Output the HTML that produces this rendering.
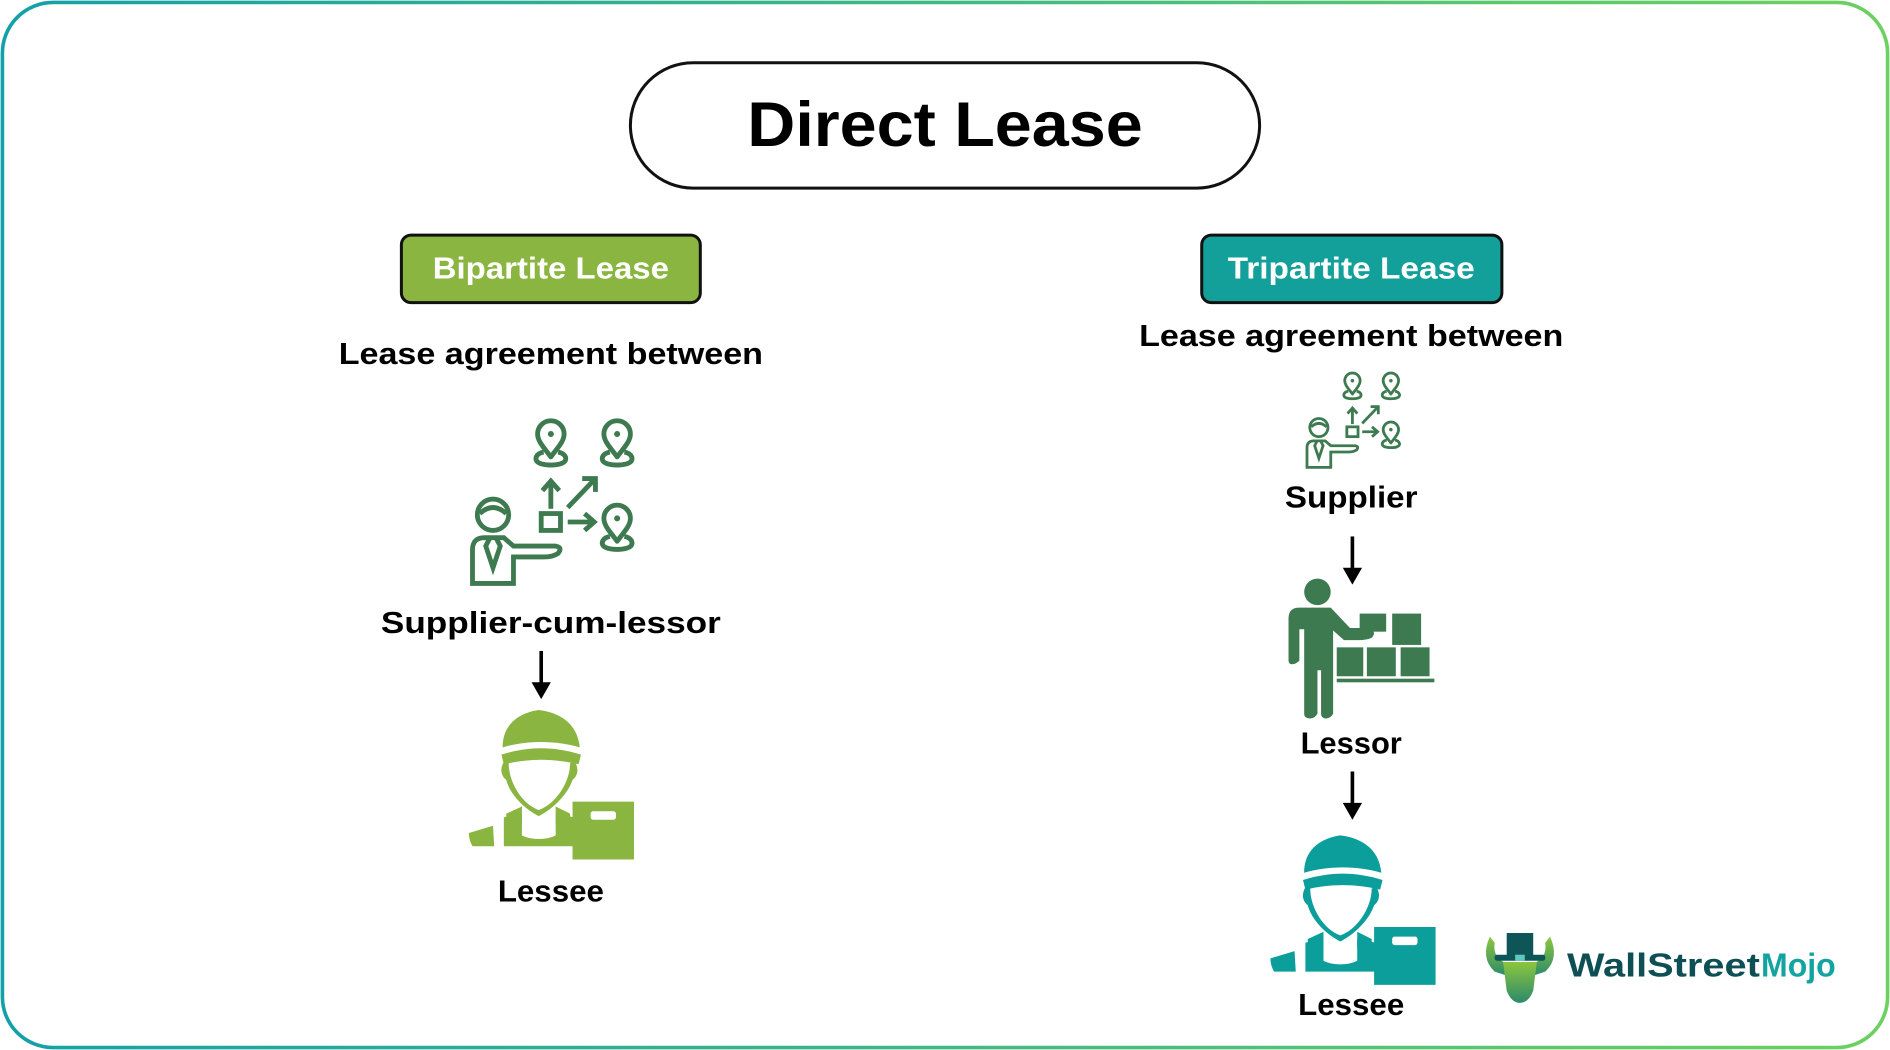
<!DOCTYPE html>
<html><head><meta charset="utf-8"><style>
html,body{margin:0;padding:0;background:#fff;}
svg{display:block;}
text{font-family:"Liberation Sans",Arial,sans-serif;font-weight:bold;}
</style></head><body>
<svg width="1890" height="1050" viewBox="0 0 1568 871" xmlns="http://www.w3.org/2000/svg">
<defs>
<linearGradient id="bd" x1="0" y1="0" x2="1" y2="0">
<stop offset="0" stop-color="#14a0a8"/><stop offset="1" stop-color="#6cd160"/>
</linearGradient>
<linearGradient id="bull" x1="0" y1="0" x2="0" y2="1">
<stop offset="0" stop-color="#8cc63f"/><stop offset="1" stop-color="#2c8a6a"/>
</linearGradient>
<g id="pin">
<path d="M0,18 C-6,10 -11,5 -11,-1 A11,11 0 1 1 11,-1 C11,5 6,10 0,18 Z" fill="none" stroke="#3d7a4f" stroke-width="4" stroke-linejoin="round"/>
<circle cx="0" cy="-1" r="2.5" fill="#3d7a4f"/>
<path d="M-6,14 C-12,15 -13,19 -12,21 C-10,26 10,26 12,21 C13,19 12,15 6,14" fill="none" stroke="#3d7a4f" stroke-width="4"/>
</g>
<g id="sup">
<use href="#pin" x="69" y="11"/>
<use href="#pin" x="124" y="11"/>
<use href="#pin" x="124" y="81"/>
<rect x="61" y="76" width="16" height="14" fill="none" stroke="#3d7a4f" stroke-width="4"/>
<g stroke="#3d7a4f" stroke-width="4" fill="none" stroke-linejoin="miter">
<path d="M69,72 V50 M62,57 L69,49 L76,57"/>
<path d="M83,71 L105,48 M95,47 L106,47 L106,58"/>
<path d="M83,83 H104 M97,76 L105,83 L97,90"/>
<circle cx="21" cy="77" r="13"/>
<path d="M10,76 Q21,66 32,76"/>
<path d="M4,134 V106 Q4,96 14,96 H30 L38,103 H73 Q79,104 75,109 Q71,112 63,112 H38 V134 Z"/>
<path d="M18,97 L15,103 L21,121 L27,103 L24,97"/>
</g>
</g>
<g id="lessee">
<path d="M28,31 C28,10 44,2 58,0 C74,2 90,10 92,31 C72,25 48,25 28,31 Z"/>
<path d="M27,37 C50,30 70,30 93,37 L91,45 C70,40 50,40 29,45 Z"/>
<path d="M29,43 C26,48 26,54 31,58 C34,70 46,82 58,88 C70,82 82,70 86,58 C91,54 91,48 88,43 L84,44 C84,60 72,78 58,83 C44,78 33,60 33,44 Z"/>
<path d="M31,86 L44,80 L44,94 L31,100 Z M84,86 L72,80 L72,94 L84,100 Z"/>
<path d="M29,89 L44,86 L44,113 L29,113 Z M87,89 L72,86 L72,113 L87,113 Z M44,104 C52,108 64,108 72,104 L72,113 L44,113 Z"/>
<path d="M0,102 L20,96 L21,113 L3,113 Q0,108 0,102 Z"/>
<rect x="86" y="76" width="51" height="48"/>
<rect x="101" y="84" width="21" height="7" rx="2" fill="#fff"/>
</g>
<g id="arrow">
<rect x="-1.5" y="0" width="3" height="30" fill="#000"/>
<path d="M-8,26 L8,26 L0,40 Z" fill="#000"/>
</g>
</defs>

<rect x="2" y="2" width="1564" height="867" rx="42" fill="#fff" stroke="url(#bd)" stroke-width="3"/>

<rect x="523" y="52" width="522" height="104" rx="52" fill="#fff" stroke="#111" stroke-width="2.5"/>
<text x="784" y="121" font-size="52" text-anchor="middle" textLength="328" lengthAdjust="spacingAndGlyphs">Direct Lease</text>

<rect x="333" y="195" width="248" height="56" rx="8" fill="#8ab540" stroke="#111" stroke-width="2.5"/>
<text x="457" y="231" font-size="25" fill="#fff" text-anchor="middle" textLength="196" lengthAdjust="spacingAndGlyphs">Bipartite Lease</text>
<rect x="997" y="195" width="249" height="56" rx="8" fill="#13a09a" stroke="#111" stroke-width="2.5"/>
<text x="1121" y="231" font-size="25" fill="#fff" text-anchor="middle" textLength="205" lengthAdjust="spacingAndGlyphs">Tripartite Lease</text>

<text x="457" y="302" font-size="25" text-anchor="middle" textLength="352" lengthAdjust="spacingAndGlyphs">Lease agreement between</text>
<text x="1121" y="287" font-size="25" text-anchor="middle" textLength="352" lengthAdjust="spacingAndGlyphs">Lease agreement between</text>

<!-- left -->
<use href="#sup" transform="translate(388,350)"/>
<text x="457" y="525" font-size="25" text-anchor="middle" textLength="282" lengthAdjust="spacingAndGlyphs">Supplier-cum-lessor</text>
<use href="#arrow" x="449" y="540"/>
<use href="#lessee" transform="translate(389,589)" fill="#8ab540"/>
<text x="457" y="748" font-size="25" text-anchor="middle" textLength="88" lengthAdjust="spacingAndGlyphs">Lessee</text>

<!-- right -->
<use href="#sup" transform="translate(1082,310) scale(0.58)"/>
<text x="1121" y="421" font-size="25" text-anchor="middle" textLength="110" lengthAdjust="spacingAndGlyphs">Supplier</text>
<use href="#arrow" x="1122" y="445"/>
<g fill="#3d7a4f">
<circle cx="1093" cy="491" r="11"/>
<path d="M1078,504 H1104 L1120,521 H1135 Q1143,524 1138,529 Q1134,531 1127,531 H1115 L1106,523 V592 Q1104,596 1100,596 Q1096,596 1096,592 V556 H1093 V592 Q1091,596 1087,596 Q1082,596 1082,592 V522 L1078,522 V548 Q1075,551 1072,551 Q1069,551 1069,548 V513 Q1069,504 1078,504 Z"/>
<rect x="1128" y="509" width="22" height="15"/>
<rect x="1155" y="509" width="24" height="26"/>
<rect x="1109" y="537" width="22" height="24"/>
<rect x="1134" y="537" width="24" height="24"/>
<rect x="1162" y="537" width="24" height="24"/>
<rect x="1109" y="563" width="81" height="3"/>
</g>
<text x="1121" y="625" font-size="25" text-anchor="middle" textLength="84" lengthAdjust="spacingAndGlyphs">Lessor</text>
<use href="#arrow" x="1122" y="640"/>
<use href="#lessee" transform="translate(1054,693)" fill="#0b9e9a"/>
<text x="1121" y="842" font-size="25" text-anchor="middle" textLength="88" lengthAdjust="spacingAndGlyphs">Lessee</text>

<!-- logo -->
<g>
<path d="M1236,777 Q1228,795 1240,806 L1252,810 L1252,800 Q1238,796 1240,782 Z" fill="url(#bull)"/>
<path d="M1286,777 Q1294,795 1282,806 L1270,810 L1270,800 Q1284,796 1282,782 Z" fill="url(#bull)"/>
<path d="M1247,798 H1275 L1272,822 Q1268,832 1261,832 Q1254,832 1250,822 Z" fill="url(#bull)"/>
<rect x="1250" y="774" width="22" height="20" fill="#0d5557"/>
<rect x="1240" y="792" width="42" height="5" rx="2" fill="#0d5557"/>
<rect x="1257" y="792" width="8" height="5" fill="#5fc7c0"/>
</g>
<text x="1300" y="810" font-size="28" fill="#0d4f55" textLength="160" lengthAdjust="spacingAndGlyphs">WallStreet</text>
<text x="1461" y="810" font-size="28" fill="#13a3a0" textLength="62" lengthAdjust="spacingAndGlyphs">Mojo</text>
</svg>
</body></html>
